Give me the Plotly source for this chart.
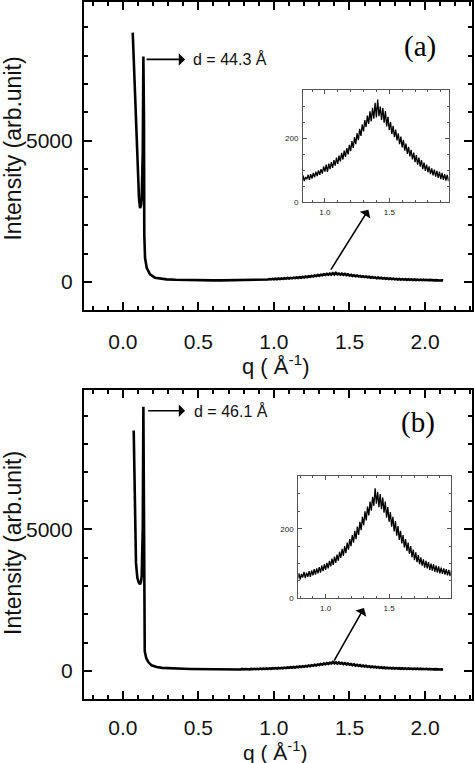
import numpy as np
import plotly.graph_objects as go

# ---------------- data ----------------
# low-q part of the main curves (q in 1/A, intensity arb. units)
q_low_a = [0.0655, 0.075, 0.0874, 0.0984, 0.107, 0.114, 0.120, 0.125, 0.132, 0.136,
           0.140, 0.142, 0.147, 0.158, 0.18, 0.213, 0.25, 0.29, 0.35, 0.40, 0.45,
           0.50, 0.55, 0.60, 0.65, 0.70, 0.75]
I_low_a = [8816, 7450, 5772, 4015, 2961, 2610, 2700, 2961, 4610, 7973,
           5770, 1672, 853, 502, 267, 151, 115, 91, 78, 70, 63,
           58, 56, 55, 56, 60, 66]

q_low_b = [0.072, 0.079, 0.087, 0.096, 0.105, 0.114, 0.120, 0.125, 0.132, 0.136,
           0.138, 0.140, 0.145, 0.155, 0.169, 0.19, 0.224, 0.26, 0.30, 0.35, 0.40,
           0.45, 0.50, 0.55, 0.60, 0.65, 0.70, 0.75]
I_low_b = [8475, 6259, 3811, 3287, 3120, 3056, 3150, 3346, 5094, 9315,
           5500, 1014, 700, 450, 315, 200, 140, 110, 95, 85, 78,
           72, 68, 66, 64, 63, 62, 63]

# high-q (broad hump) part, sampled every 0.01 from 0.78 to 2.12
q_hump_start = 0.78
q_hump_step = 0.01
I_hump_a = [64, 80, 62, 78, 70, 84, 66, 79, 72, 86,
            70, 88, 74, 92, 78, 96, 82, 100, 86, 104,
            90, 112, 96, 118, 95, 121, 104, 126, 108, 132,
            115, 140, 120, 146, 128, 155, 134, 162, 142, 170,
            150, 180, 160, 192, 170, 204, 182, 216, 195, 230,
            208, 244, 222, 258, 236, 272, 246, 285, 254, 296,
            262, 312, 266, 322, 270, 300, 258, 296, 250, 286,
            238, 268, 226, 252, 214, 240, 204, 228, 194, 216,
            182, 206, 172, 196, 162, 184, 152, 174, 144, 164,
            134, 156, 126, 148, 118, 140, 112, 132, 104, 124,
            98, 118, 94, 112, 88, 106, 84, 102, 80, 98,
            76, 96, 72, 92, 70, 88, 68, 86, 66, 84,
            64, 80, 62, 76, 60, 72, 58, 70, 57, 66,
            56, 62, 54, 58, 55]
I_hump_b = [56, 72, 54, 70, 60, 76, 58, 74, 62, 78,
            62, 80, 66, 84, 68, 86, 72, 90, 74, 94,
            78, 98, 82, 102, 86, 108, 92, 114, 96, 120,
            102, 126, 108, 134, 116, 142, 122, 150, 130, 160,
            140, 170, 150, 182, 160, 194, 170, 206, 182, 220,
            196, 234, 210, 250, 224, 264, 238, 278, 252, 292,
            266, 316, 272, 306, 262, 300, 256, 290, 246, 278,
            232, 262, 220, 248, 206, 234, 192, 222, 180, 208,
            168, 194, 158, 182, 146, 170, 136, 160, 128, 150,
            118, 140, 110, 132, 104, 124, 98, 118, 94, 112,
            88, 108, 86, 104, 82, 100, 80, 98, 76, 94,
            74, 92, 72, 88, 70, 86, 68, 84, 66, 82,
            64, 80, 62, 76, 60, 72, 58, 70, 57, 66,
            56, 62, 54, 58, 55]

panel_labels = ["(a)", "(b)"]
d_labels = ["d = 44.3 Å", "d = 46.1 Å"]
x_ticks = [0.0, 0.5, 1.0, 1.5, 2.0]
y_ticks = [0, 5000]
inset_x_ticks = [1.0, 1.5]
inset_y_ticks = [0, 200]

q_hump = [round(q_hump_start + i * q_hump_step, 2) for i in range(len(I_hump_a))]

q_a = q_low_a + q_hump
I_a = I_low_a + I_hump_a
q_b = q_low_b + q_hump
I_b = I_low_b + I_hump_b

# ---------------- figure ----------------
W, H = 474, 763
fig = go.Figure()

main_line = dict(color="black", width=2.6)
inset_line = dict(color="black", width=1.3)

fig.add_trace(go.Scatter(x=q_a, y=I_a, mode="lines", line=main_line, xaxis="x", yaxis="y", showlegend=False))
fig.add_trace(go.Scatter(x=q_b, y=I_b, mode="lines", line=main_line, xaxis="x2", yaxis="y2", showlegend=False))
fig.add_trace(go.Scatter(x=q_hump, y=I_hump_a, mode="lines", line=inset_line, xaxis="x3", yaxis="y3", showlegend=False))
fig.add_trace(go.Scatter(x=q_hump, y=I_hump_b, mode="lines", line=inset_line, xaxis="x4", yaxis="y4", showlegend=False))

FONT = "Liberation Sans, Arial, sans-serif"

def main_x(domain, anchor, standoff):
    return dict(domain=domain, anchor=anchor, range=[-0.257, 2.309],
                showline=True, linewidth=2.2, linecolor="black", mirror="allticks",
                ticks="inside", ticklen=8, tickwidth=1.6, tickcolor="black",
                tickvals=x_ticks, tickformat=".1f",
                minor=dict(dtick=0.1, tick0=0, ticks="inside", ticklen=4, tickwidth=1.6, tickcolor="black"),
                showgrid=False, zeroline=False, ticklabelstandoff=standoff,
                tickfont=dict(family=FONT, size=21, color="#111"))

def main_y(domain, anchor):
    return dict(domain=domain, anchor=anchor, range=[-1000, 9900],
                showline=True, linewidth=2.2, linecolor="black", mirror="allticks",
                ticks="inside", ticklen=8, tickwidth=1.6, tickcolor="black",
                tickvals=y_ticks,
                minor=dict(dtick=1000, tick0=0, ticks="inside", ticklen=4, tickwidth=1.6, tickcolor="black"),
                showgrid=False, zeroline=False, ticklabelstandoff=5,
                tickfont=dict(family=FONT, size=21, color="#111"))

def inset_x(domain, anchor, rng):
    return dict(domain=domain, anchor=anchor, range=rng,
                showline=True, linewidth=1, linecolor="#555", mirror="allticks",
                ticks="inside", ticklen=4, tickwidth=1, tickcolor="#555",
                tickvals=inset_x_ticks, tickformat=".1f",
                minor=dict(dtick=0.1, tick0=0, ticks="inside", ticklen=2, tickwidth=1, tickcolor="#555"),
                showgrid=False, zeroline=False, ticklabelstandoff=2,
                tickfont=dict(family=FONT, size=8, color="#222"))

def inset_y(domain, anchor):
    return dict(domain=domain, anchor=anchor, range=[0, 352],
                showline=True, linewidth=1, linecolor="#555", mirror="allticks",
                ticks="inside", ticklen=4, tickwidth=1, tickcolor="#555",
                tickvals=inset_y_ticks,
                minor=dict(dtick=50, tick0=0, ticks="inside", ticklen=2, tickwidth=1, tickcolor="#555"),
                showgrid=False, zeroline=False, ticklabelstandoff=2,
                tickfont=dict(family=FONT, size=8, color="#222"))

top_dom_y = [1 - 312.3 / H, 1 - 2 / H]
bot_dom_y = [1 - 704 / H, 1 - 392.7 / H]
main_dom_x = [84 / W, 471.7 / W]

fig.update_layout(
    width=W, height=H, autosize=False,
    margin=dict(l=0, r=0, t=0, b=0),
    paper_bgcolor="white", plot_bgcolor="white",
    xaxis=main_x(main_dom_x, "y", 11),
    yaxis=main_y(top_dom_y, "x"),
    xaxis2=main_x(main_dom_x, "y2", 8),
    yaxis2=main_y(bot_dom_y, "x2"),
    xaxis3=inset_x([303 / W, 448.5 / W], "y3", [0.83, 1.96]),
    yaxis3=inset_y([1 - 203.5 / H, 1 - 90.7 / H], "x3"),
    xaxis4=inset_x([298.3 / W, 450.7 / W], "y4", [0.785, 1.985]),
    yaxis4=inset_y([1 - 602.3 / H, 1 - 479 / H], "x4"),
)

ann = []
# axis titles
for yc, fs in [(1 - 367 / H, 22), (1 - 756 / H, 21)]:
    ann.append(dict(text="q ( Å<sup>-1</sup>)", x=275 / W, y=yc, xref="paper", yref="paper",
                    showarrow=False, xanchor="center", yanchor="middle",
                    font=dict(family=FONT, size=fs, color="#111")))
for yc in [1 - 150 / H, 1 - 547 / H]:
    ann.append(dict(text="Intensity (arb.unit)", x=13.5 / W, y=yc, xref="paper", yref="paper",
                    showarrow=False, textangle=-90, xanchor="center", yanchor="middle",
                    font=dict(family=FONT, size=23, color="#111")))
# panel labels
ann.append(dict(text=panel_labels[0], x=438 / W, y=1 - 28 / H, xref="paper", yref="paper",
                showarrow=False, font=dict(family="Liberation Serif, Times New Roman, serif", size=29, color="black")))
ann.append(dict(text=panel_labels[1], x=436.7 / W, y=1 - 425 / H, xref="paper", yref="paper",
                showarrow=False, font=dict(family="Liberation Serif, Times New Roman, serif", size=29, color="black")))

# d-spacing arrows and text
arrow_style = dict(showarrow=True, arrowhead=1, arrowsize=1.3, arrowwidth=1.6, arrowcolor="black", text="")
ann.append(dict(x=0.412, y=7870, ax=0.147, ay=7870, xref="x", yref="y", axref="x", ayref="y", **arrow_style))
ann.append(dict(text=d_labels[0], x=0.452, y=7870, xref="x", yref="y", showarrow=False, xanchor="left",
                yanchor="middle", font=dict(family=FONT, size=16, color="#111")))
ann.append(dict(x=0.412, y=9175, ax=0.158, ay=9175, xref="x2", yref="y2", axref="x2", ayref="y2", **arrow_style))
ann.append(dict(text=d_labels[1], x=0.458, y=9175, xref="x2", yref="y2", showarrow=False, xanchor="left",
                yanchor="middle", font=dict(family=FONT, size=16, color="#111")))
# arrows to insets
ann.append(dict(x=1.625, y=2550, ax=1.371, ay=386, xref="x", yref="y", axref="x", ayref="y", **arrow_style))
ann.append(dict(x=1.596, y=2217, ax=1.393, ay=315, xref="x2", yref="y2", axref="x2", ayref="y2", **arrow_style))

fig.update_layout(annotations=ann)
fig.write_html("out.html")
